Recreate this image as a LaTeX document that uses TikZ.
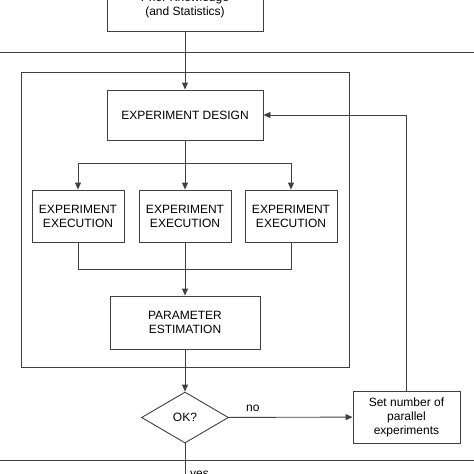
\documentclass[tikz,border=0pt]{standalone}
\usepackage{fontspec}
\setmainfont{Liberation Sans}
\usetikzlibrary{arrows.meta,shapes.geometric}

\begin{document}
\begin{tikzpicture}[x=1pt,y=-1pt,
  box/.style={draw=black!75,line width=0.9pt,align=center,inner sep=0pt,
    font=\fontsize{12}{14}\selectfont},
  lbl/.style={anchor=base west,inner sep=0pt,font=\fontsize{12}{14}\selectfont},
  line/.style={draw=black!75,line width=0.9pt},
  arr/.style={line,-{Triangle[length=7pt,width=6pt]}}]
  \clip (0,0) rectangle (474,474);
  % blocks
  \node[box,minimum width=156pt,minimum height=51pt] (prior) at (185,5.5) {Prior Knowledge\\(and Statistics)};
  \node[box,minimum width=156pt,minimum height=50pt] (design) at (185,115) {EXPERIMENT DESIGN};
  \node[box,minimum width=92pt,minimum height=52pt] (exec1) at (78,216) {EXPERIMENT\\EXECUTION};
  \node[box,minimum width=92pt,minimum height=52pt] (exec2) at (185,216) {EXPERIMENT\\EXECUTION};
  \node[box,minimum width=92pt,minimum height=52pt] (exec3) at (291,216) {EXPERIMENT\\EXECUTION};
  \node[box,minimum width=150pt,minimum height=53pt] (param) at (185,322.5) {PARAMETER\\ESTIMATION};
  \node[box,diamond,aspect=1.7,minimum width=87pt,minimum height=51pt] (ok) at (185,417.5) {OK?};
  \node[box,minimum width=107pt,minimum height=52pt] (setnum) at (406.5,417) {Set number of\\parallel\\experiments};
  \node[lbl] (nolbl) at (246,411) {no};
  \node[lbl] (yeslbl) at (190,477) {yes};
  \coordinate (split) at (185,163);
  \coordinate (join) at (185,269);
  \coordinate (out) at (185,480);
  % frames
  \draw[line] (0,52) -- (474,52);
  \draw[line] (0,460) -- (474,460);
  \draw[line] (21,72) rectangle (349,367);
  % connectors
  \draw[arr] (prior) -- (design);
  \draw[line] (design) -- (split);
  \draw[arr] (split) -| (exec1.north);
  \draw[arr] (split) -- (exec2);
  \draw[arr] (split) -| (exec3.north);
  \draw[line] (exec1.south) |- (join);
  \draw[line] (exec3.south) |- (join);
  \draw[arr] (exec2) -- (param);
  \draw[arr] (param) -- (ok);
  \draw[arr] (ok) -- (setnum);
  \draw[arr] (setnum.north) |- (design.east);
  \draw[line] (ok) -- (out);
\end{tikzpicture}
\end{document}
